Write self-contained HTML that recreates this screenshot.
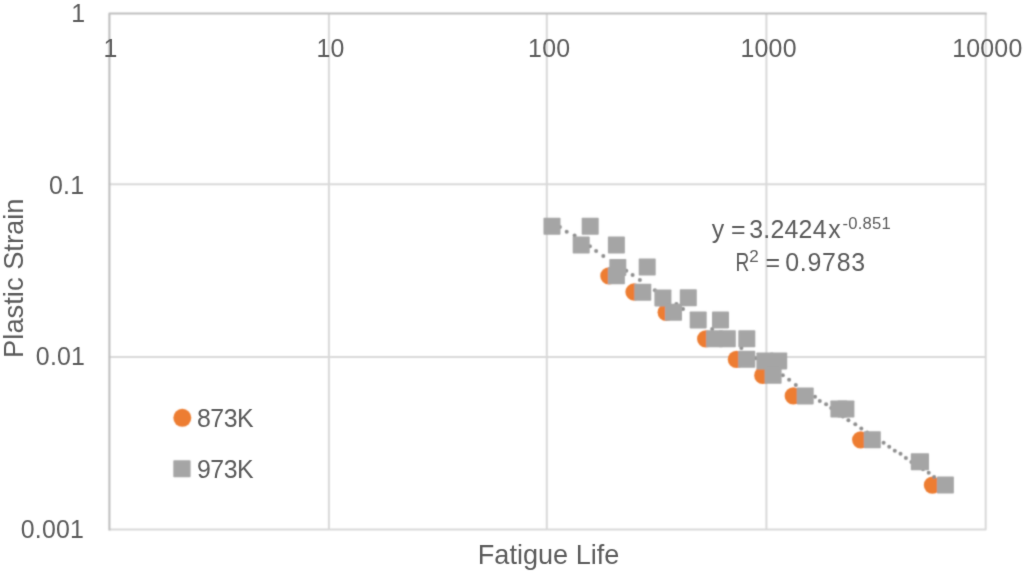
<!DOCTYPE html>
<html lang="en">
<head>
<meta charset="utf-8">
<title>Plastic Strain vs Fatigue Life</title>
<style>
html,body{margin:0;padding:0;background:#fff;}
body{width:1024px;height:573px;overflow:hidden;}
svg{display:block;}
text{font-family:"Liberation Sans",Arial,sans-serif;fill:#5c5c5c;}
.tick{font-size:24.9px;letter-spacing:0.22px;}
.title{font-size:28.1px;}
.sup{font-size:17px;}
</style>
</head>
<body>
<svg width="1024" height="573" viewBox="0 0 1024 573">
<rect x="0" y="0" width="1024" height="573" fill="#ffffff"/>
<defs><filter id="soft" filterUnits="userSpaceOnUse" x="0" y="0" width="1024" height="573"><feConvolveMatrix order="5" kernelMatrix="0.0001 0.0020 0.0055 0.0020 0.0001 0.0020 0.0422 0.1171 0.0422 0.0020 0.0055 0.1171 0.3248 0.1171 0.0055 0.0020 0.0422 0.1171 0.0422 0.0020 0.0001 0.0020 0.0055 0.0020 0.0001" divisor="1" edgeMode="none"/></filter><filter id="softt" filterUnits="userSpaceOnUse" x="0" y="0" width="1024" height="573"><feConvolveMatrix order="3" kernelMatrix="0.0113 0.0838 0.0113 0.0838 0.6193 0.0838 0.0113 0.0838 0.0113" divisor="1" edgeMode="none"/></filter></defs>
<g filter="url(#soft)">

<g stroke="#d9d9d9" stroke-width="2.0" fill="none" stroke-linejoin="round" stroke-linecap="butt">
<line x1="328.9" y1="13.5" x2="328.9" y2="529.5"/>
<line x1="546.8" y1="13.5" x2="546.8" y2="529.5"/>
<line x1="766.4" y1="13.5" x2="766.4" y2="529.5"/>
<line x1="109.4" y1="184.3" x2="985.7" y2="184.3"/>
<line x1="109.4" y1="357.05" x2="985.7" y2="357.05"/>
<path d="M985.7 13.5 L985.7 529.5 L109.4 529.5"/>
</g>
<path d="M109.4 530.5 L109.4 13.5 L986.7 13.5" stroke="#bfbfbf" stroke-width="2.1" fill="none" stroke-linejoin="round"/>
</g>
<g filter="url(#soft)">
<g fill="#ed7d31">
<circle cx="608.9" cy="275.9" r="8.65"/>
<circle cx="634.0" cy="292.0" r="8.65"/>
<circle cx="666.2" cy="312.3" r="8.65"/>
<circle cx="705.7" cy="338.9" r="8.65"/>
<circle cx="736.4" cy="359.4" r="8.65"/>
<circle cx="762.8" cy="375.4" r="8.65"/>
<circle cx="793.3" cy="395.9" r="8.65"/>
<circle cx="860.7" cy="439.8" r="8.65"/>
<circle cx="932.4" cy="485.1" r="8.65"/>
</g>
<g fill="#8e8e8e">
<circle cx="559.9" cy="226.9" r="2.0"/>
<circle cx="566.7" cy="231.8" r="2.0"/>
<circle cx="574.6" cy="235.5" r="2.0"/>
<circle cx="589.9" cy="246.2" r="2.0"/>
<circle cx="596.1" cy="251.1" r="2.0"/>
<circle cx="603.3" cy="255.9" r="2.0"/>
<circle cx="626.3" cy="270.8" r="2.0"/>
<circle cx="632.6" cy="275.1" r="2.0"/>
<circle cx="639.9" cy="279.9" r="2.0"/>
<circle cx="654.9" cy="290.2" r="2.0"/>
<circle cx="676.4" cy="304.0" r="2.0"/>
<circle cx="683.0" cy="309.0" r="2.0"/>
<circle cx="712.2" cy="329.0" r="2.0"/>
<circle cx="741.4" cy="348.0" r="2.0"/>
<circle cx="755.8" cy="358.2" r="2.0"/>
<circle cx="782.8" cy="375.2" r="2.0"/>
<circle cx="789.1" cy="379.8" r="2.0"/>
<circle cx="795.8" cy="384.9" r="2.0"/>
<circle cx="815.0" cy="396.7" r="2.0"/>
<circle cx="819.8" cy="401.0" r="2.0"/>
<circle cx="826.1" cy="404.2" r="2.0"/>
<circle cx="831.2" cy="407.9" r="2.0"/>
<circle cx="842.9" cy="416.6" r="2.0"/>
<circle cx="848.4" cy="420.2" r="2.0"/>
<circle cx="855.3" cy="424.2" r="2.0"/>
<circle cx="861.3" cy="428.6" r="2.0"/>
<circle cx="867.2" cy="432.4" r="2.0"/>
<circle cx="883.6" cy="442.8" r="2.0"/>
<circle cx="889.2" cy="446.7" r="2.0"/>
<circle cx="894.8" cy="450.7" r="2.0"/>
<circle cx="900.5" cy="453.7" r="2.0"/>
<circle cx="905.9" cy="458.1" r="2.0"/>
<circle cx="911.4" cy="461.9" r="2.0"/>
<circle cx="923.0" cy="469.2" r="2.0"/>
<circle cx="928.7" cy="472.7" r="2.0"/>
<circle cx="934.1" cy="477.1" r="2.0"/>
</g>
<g fill="#a5a5a5">
<rect x="543.50" y="217.80" width="17.0" height="17.0" rx="0.8"/>
<rect x="581.70" y="217.80" width="17.0" height="17.0" rx="0.8"/>
<rect x="572.70" y="236.60" width="17.0" height="17.0" rx="0.8"/>
<rect x="607.90" y="236.60" width="17.0" height="17.0" rx="0.8"/>
<rect x="609.30" y="258.90" width="17.0" height="17.0" rx="0.8"/>
<rect x="607.90" y="267.20" width="17.0" height="17.0" rx="0.8"/>
<rect x="638.70" y="258.60" width="17.0" height="17.0" rx="0.8"/>
<rect x="634.30" y="283.70" width="17.0" height="17.0" rx="0.8"/>
<rect x="654.40" y="289.40" width="17.0" height="17.0" rx="0.8"/>
<rect x="679.80" y="289.30" width="17.0" height="17.0" rx="0.8"/>
<rect x="665.00" y="303.70" width="17.0" height="17.0" rx="0.8"/>
<rect x="689.70" y="311.40" width="17.0" height="17.0" rx="0.8"/>
<rect x="712.00" y="311.40" width="17.0" height="17.0" rx="0.8"/>
<rect x="706.10" y="330.30" width="17.0" height="17.0" rx="0.8"/>
<rect x="718.80" y="330.30" width="17.0" height="17.0" rx="0.8"/>
<rect x="738.30" y="330.30" width="17.0" height="17.0" rx="0.8"/>
<rect x="738.20" y="350.80" width="17.0" height="17.0" rx="0.8"/>
<rect x="756.40" y="352.40" width="17.0" height="17.0" rx="0.8"/>
<rect x="770.20" y="352.40" width="17.0" height="17.0" rx="0.8"/>
<rect x="764.60" y="366.80" width="17.0" height="17.0" rx="0.8"/>
<rect x="796.70" y="387.40" width="17.0" height="17.0" rx="0.8"/>
<rect x="830.40" y="400.50" width="17.0" height="17.0" rx="0.8"/>
<rect x="837.40" y="400.50" width="17.0" height="17.0" rx="0.8"/>
<rect x="863.80" y="431.20" width="17.0" height="17.0" rx="0.8"/>
<rect x="910.80" y="453.30" width="18.2" height="17.0" rx="0.8"/>
<rect x="936.90" y="476.60" width="17.0" height="17.0" rx="0.8"/>
</g>
<circle cx="182.3" cy="417.8" r="9.0" fill="#ed7d31"/>
<rect x="173.3" y="460.3" width="17.3" height="17" rx="0.8" fill="#a5a5a5"/>
</g>
<g filter="url(#softt)">
<text class="tick" x="196.9" y="426.6" style="letter-spacing:-0.45px">873K</text>
<text class="tick" x="196.9" y="477.6" style="letter-spacing:-0.45px">973K</text>
<text class="tick" x="85.3" y="21.6" text-anchor="end">1</text>
<text class="tick" x="84.3" y="193.9" text-anchor="end">0.1</text>
<text class="tick" x="85.2" y="365.2" text-anchor="end">0.01</text>
<text class="tick" x="84.1" y="538.1" text-anchor="end">0.001</text>
<text class="tick" x="110.5" y="56.8" text-anchor="middle">1</text>
<text class="tick" x="330.5" y="56.8" text-anchor="middle">10</text>
<text class="tick" x="549.2" y="56.8" text-anchor="middle">100</text>
<text class="tick" x="768.6" y="56.8" text-anchor="middle">1000</text>
<text class="tick" x="987.3" y="56.8" text-anchor="middle">10000</text>
<text class="title" x="548.6" y="563.9" text-anchor="middle" textLength="141.6" lengthAdjust="spacingAndGlyphs">Fatigue Life</text>
<text class="title" transform="translate(22.8 278.2) rotate(-90)" text-anchor="middle" textLength="159.4" lengthAdjust="spacingAndGlyphs">Plastic Strain</text>
<text class="tick" y="237.8"><tspan x="711.8">y </tspan><tspan x="731.0">= </tspan><tspan x="749.3">3.2424</tspan><tspan x="828.2">x</tspan><tspan class="sup" x="842.6" y="229.3" textLength="48.4" lengthAdjust="spacingAndGlyphs">-0.851</tspan></text>
<text class="tick" y="271.4"><tspan x="735.4" textLength="14" lengthAdjust="spacingAndGlyphs">R</tspan><tspan class="sup" x="749.2" y="261.5">2 </tspan><tspan x="765.6" y="271.4">= </tspan><tspan x="785.2" y="271.4" letter-spacing="0.75">0.9783</tspan></text>
</g>
</svg>
</body>
</html>
